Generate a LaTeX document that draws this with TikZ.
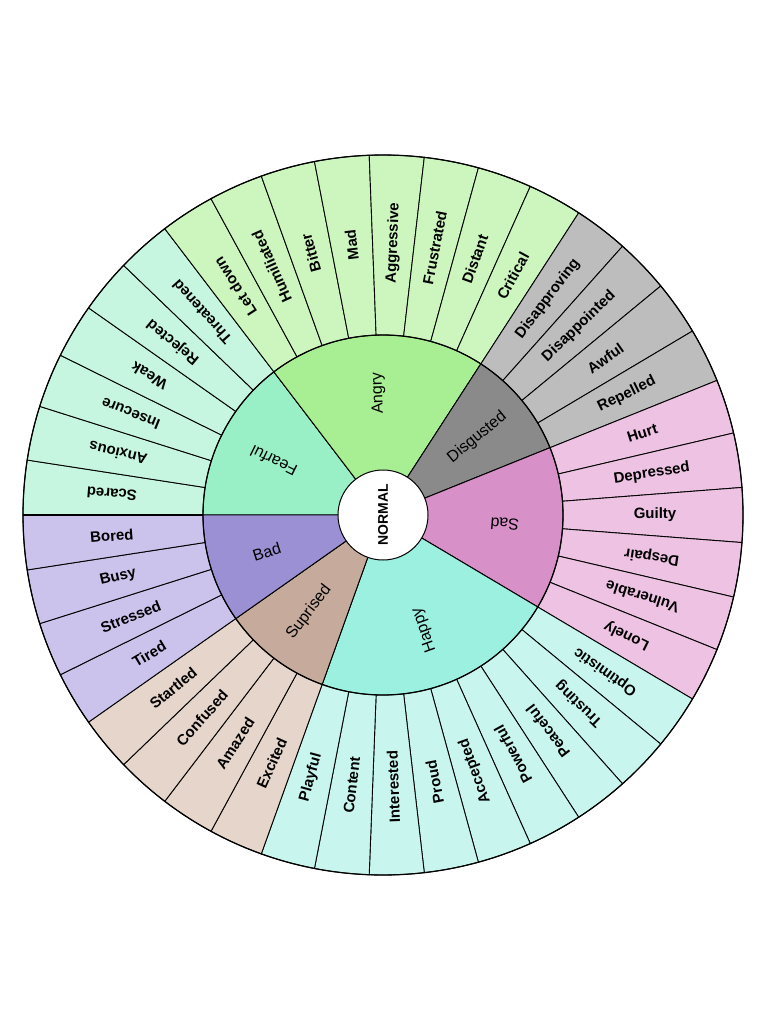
\documentclass[tikz,border=0pt]{standalone}
\usepackage{fontspec}
\setmainfont{Liberation Sans}
\definecolor{angI}{HTML}{A8EE92}\definecolor{angO}{HTML}{CCF6BE}
\definecolor{disI}{HTML}{8A8A8A}\definecolor{disO}{HTML}{BDBDBD}
\definecolor{sadI}{HTML}{D890C8}\definecolor{sadO}{HTML}{EDC2E2}
\definecolor{hapI}{HTML}{9CF0E0}\definecolor{hapO}{HTML}{C8F6EE}
\definecolor{surI}{HTML}{C6AB9C}\definecolor{surO}{HTML}{E5D5CA}
\definecolor{badI}{HTML}{9C90D4}\definecolor{badO}{HTML}{CBC3EC}
\definecolor{feaI}{HTML}{9AF0C6}\definecolor{feaO}{HTML}{C6F6E0}
\tikzset{word/.style={font=\fontsize{15}{15}\selectfont\bfseries,inner sep=0pt},
 glabel/.style={font=\fontsize{16}{16}\selectfont,inner sep=0pt},
 rim/.style={draw=black,line width=0.9pt}}
\newcommand\emgroup[6]{%
 \foreach \w [count=\j from 0] in {#6} {
   \pgfmathsetmacro\aa{180-(#1+\j)*360/41}
   \pgfmathsetmacro\ab{\aa-360/41}
   \pgfmathsetmacro\am{\aa-180/41}
   \pgfmathsetmacro\rot{\am<0 ? \am+180 : \am}
   \fill[#4,rim] (0,0) -- (\aa:360) arc[start angle=\aa,end angle=\ab,radius=360] -- cycle;
   \node[word,rotate=\rot] (w#1-\j) at (\am:272) {\w};
 }
 \pgfmathsetmacro\ga{180-#1*360/41}
 \pgfmathsetmacro\gb{180-(#1+#2)*360/41}
 \pgfmathsetmacro\gm{(\ga+\gb)/2}
 \pgfmathsetmacro\grot{\gm<0 ? \gm+180 : \gm}
 \fill[#3,rim] (0,0) -- (\ga:180) arc[start angle=\ga,end angle=\gb,radius=180] -- cycle;
 \node[glabel,rotate=\grot] (g#1) at (\gm:122) {#5};
}
\begin{document}
\begin{tikzpicture}[x=1pt,y=1pt]
\fill[white] (0,0) rectangle (768,-1024);
\useasboundingbox (0,0) rectangle (768,-1024);
\begin{scope}[shift={(383,-515)}]
\emgroup{0}{6}{feaI}{feaO}{Fearful}{Scared,Anxious,Insecure,Weak,Rejected,Threatened}
\emgroup{6}{8}{angI}{angO}{Angry}{Let down,Humiliated,Bitter,Mad,Aggressive,Frustrated,Distant,Critical}
\emgroup{14}{4}{disI}{disO}{Disgusted}{Disapproving,Disappointed,Awful,Repelled}
\emgroup{18}{6}{sadI}{sadO}{Sad}{Hurt,Depressed,Guilty,Despair,Vulnerable,Lonely}
\emgroup{24}{9}{hapI}{hapO}{Happy}{Optimistic,Trusting,Peaceful,Powerful,Accepted,Proud,Interested,Content,Playful}
\emgroup{33}{4}{surI}{surO}{Suprised}{Excited,Amazed,Confused,Startled}
\emgroup{37}{4}{badI}{badO}{Bad}{Tired,Stressed,Busy,Bored}
\draw[line width=1.6pt] (180:180) -- (180:360);
\draw[line width=1.2pt] (0,0) circle[radius=360];
\draw[line width=1.2pt] (0,0) circle[radius=180];
\node[circle,fill=white,draw=black,line width=1pt,minimum size=90pt,inner sep=0pt] (core) at (0,0) {};
\node[rotate=90,font=\fontsize{14}{14}\selectfont\bfseries] (normal) at (0,0) {NORMAL};
\end{scope}
\end{tikzpicture}
\end{document}
